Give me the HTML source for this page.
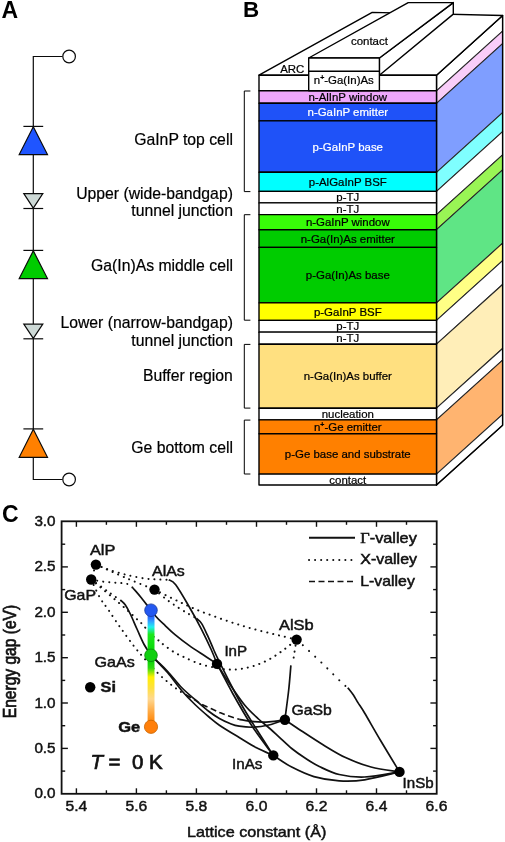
<!DOCTYPE html>
<html lang="en"><head><meta charset="utf-8"><title>Triple-junction solar cell figure</title>
<style>html,body{margin:0;padding:0;background:#fff}body{width:505px;height:842px;overflow:hidden}svg{display:block;font-family:"Liberation Sans",Arial,Helvetica,sans-serif}</style></head><body>
<svg width="505" height="842" viewBox="0 0 505 842">
<rect width="505" height="842" fill="#fff"/>
<g font-weight="bold" font-size="23" fill="#000"><text x="1.4" y="17.6">A</text><text x="243" y="17.3" font-size="22.4">B</text><text x="1.9" y="522">C</text></g>
<g stroke="#0a0a0a" stroke-width="1.2" fill="none">
<polyline points="62.6,56.5 33.3,56.5 33.3,479.5 62.6,479.5"/>
<circle cx="69.1" cy="56.5" r="6.3" fill="#fff"/>
<circle cx="69.1" cy="479.5" r="6.3" fill="#fff"/>
<polygon points="33.3,126.8 47.5,154.6 19.2,154.6" fill="#1f55ff"/>
<line x1="23.4" y1="126.4" x2="43.2" y2="126.4"/>
<polygon points="33.3,250.8 47.5,278.6 19.2,278.6" fill="#00cc00"/>
<line x1="23.4" y1="250.4" x2="43.2" y2="250.4"/>
<polygon points="33.3,429.3 47.5,457.3 19.2,457.3" fill="#ff8000"/>
<line x1="23.4" y1="428.9" x2="43.2" y2="428.9"/>
<polygon points="23.8,193.7 42.8,193.7 33.3,208.1" fill="#cdd9d6"/>
<line x1="23.4" y1="208.5" x2="43.2" y2="208.5"/>
<polygon points="23.8,324.1 42.8,324.1 33.3,338.4" fill="#cdd9d6"/>
<line x1="23.4" y1="338.8" x2="43.2" y2="338.8"/>
</g>
<g font-size="15.75" text-anchor="end" fill="#000" stroke="#000" stroke-width="0.2">
<text x="232.9" y="145">GaInP top cell</text>
<text x="232.9" y="199">Upper (wide-bandgap)</text>
<text x="232.9" y="216">tunnel junction</text>
<text x="232.9" y="270.7">Ga(In)As middle cell</text>
<text x="232.9" y="328.4">Lower (narrow-bandgap)</text>
<text x="232.9" y="346.2">tunnel junction</text>
<text x="232.9" y="380.8">Buffer region</text>
<text x="232.9" y="452.8">Ge bottom cell</text>
</g>
<g stroke="#000" stroke-width="1.4" stroke-linejoin="round">
<polygon points="436.5,75.2 502.6,15.5 502.6,31.1 436.5,90.8" fill="#ffffff" stroke="#2a2a2a" stroke-width="1.1"/>
<polygon points="436.5,90.8 502.6,31.1 502.6,43.6 436.5,103.3" fill="#f9cdf9" stroke="#2a2a2a" stroke-width="1.1"/>
<polygon points="436.5,103.3 502.6,43.6 502.6,112.6 436.5,172.3" fill="#7f9eff" stroke="#2a2a2a" stroke-width="1.1"/>
<polygon points="436.5,172.3 502.6,112.6 502.6,131.7 436.5,191.4" fill="#7fffff" stroke="#2a2a2a" stroke-width="1.1"/>
<polygon points="436.5,191.4 502.6,131.7 502.6,154.9 436.5,214.6" fill="#ffffff" stroke="#2a2a2a" stroke-width="1.1"/>
<polygon points="436.5,214.6 502.6,154.9 502.6,169.9 436.5,229.7" fill="#99f555" stroke="#2a2a2a" stroke-width="1.1"/>
<polygon points="436.5,229.7 502.6,169.9 502.6,243.2 436.5,302.9" fill="#5fe585" stroke="#2a2a2a" stroke-width="1.1"/>
<polygon points="436.5,302.9 502.6,243.2 502.6,260.7 436.5,320.4" fill="#ffff85" stroke="#2a2a2a" stroke-width="1.1"/>
<polygon points="436.5,320.4 502.6,260.7 502.6,284.5 436.5,344.2" fill="#ffffff" stroke="#2a2a2a" stroke-width="1.1"/>
<polygon points="436.5,344.2 502.6,284.5 502.6,348.5 436.5,408.2" fill="#ffeeb8" stroke="#2a2a2a" stroke-width="1.1"/>
<polygon points="436.5,408.2 502.6,348.5 502.6,360.2 436.5,419.9" fill="#ffffff" stroke="#2a2a2a" stroke-width="1.1"/>
<polygon points="436.5,419.9 502.6,360.2 502.6,414.4 436.5,474.1" fill="#ffb470" stroke="#2a2a2a" stroke-width="1.1"/>
<polygon points="436.5,474.1 502.6,414.4 502.6,425.3 436.5,485" fill="#ffffff" stroke="#2a2a2a" stroke-width="1.1"/>
<polygon points="436.5,75.2 502.6,15.5 502.6,425.3 436.5,485" fill="none"/>
<polygon points="259,75.2 372.2,12.4 502.6,15.5 436.5,75.2" fill="#fff"/>
<rect x="259" y="75.2" width="177.5" height="15.6" fill="#ffffff"/>
<rect x="259" y="90.8" width="177.5" height="12.5" fill="#eea6fb"/>
<rect x="259" y="103.3" width="177.5" height="17.6" fill="#1f52f8"/>
<rect x="259" y="120.9" width="177.5" height="51.4" fill="#1f52f8"/>
<rect x="259" y="172.3" width="177.5" height="19.1" fill="#00ffff"/>
<rect x="259" y="191.4" width="177.5" height="11.5" fill="#ffffff"/>
<rect x="259" y="202.9" width="177.5" height="11.7" fill="#ffffff"/>
<rect x="259" y="214.6" width="177.5" height="15.1" fill="#38fc08"/>
<rect x="259" y="229.7" width="177.5" height="17.8" fill="#00cc00"/>
<rect x="259" y="247.4" width="177.5" height="55.4" fill="#00cc00"/>
<rect x="259" y="302.9" width="177.5" height="17.5" fill="#ffff00"/>
<rect x="259" y="320.4" width="177.5" height="11.8" fill="#ffffff"/>
<rect x="259" y="332.1" width="177.5" height="12.1" fill="#ffffff"/>
<rect x="259" y="344.2" width="177.5" height="64" fill="#ffe080"/>
<rect x="259" y="408.2" width="177.5" height="11.7" fill="#ffffff"/>
<rect x="259" y="419.9" width="177.5" height="13.9" fill="#ff8000"/>
<rect x="259" y="433.8" width="177.5" height="40.3" fill="#ff8000"/>
<rect x="259" y="474.1" width="177.5" height="10.9" fill="#ffffff"/>
<polygon points="379.4,58 453.3,2.6 453.3,14.1 379.4,75.2" fill="#fff"/>
<polygon points="308.7,58 408.2,2.6 453.3,2.6 379.4,58" fill="#fff"/>
<rect x="308.7" y="58" width="70.7" height="32.8" fill="#fff"/>
<line x1="308.7" y1="71.3" x2="379.4" y2="71.3"/>
</g>
<g fill="none" stroke="#000" stroke-width="1">
<polyline points="250.4,91 244.3,91 244.3,191.6 250.4,191.6"/>
<polyline points="250.4,214.7 244.3,214.7 244.3,320.2 250.4,320.2"/>
<polyline points="250.4,344.4 244.3,344.4 244.3,408.1 250.4,408.1"/>
<polyline points="250.4,420.1 244.3,420.1 244.3,474 250.4,474"/>
</g>
<g font-size="11.45" text-anchor="middle" fill="#000" stroke="#000" stroke-width="0.22">
<text x="347.8" y="101.2">n-AlInP window</text>
<text x="347.8" y="116.2" fill="#fff" stroke="#fff">n-GaInP emitter</text>
<text x="347.8" y="150.7" fill="#fff" stroke="#fff">p-GaInP base</text>
<text x="347.8" y="186">p-AlGaInP BSF</text>
<text x="347.8" y="201.2">p-TJ</text>
<text x="347.8" y="212.8">n-TJ</text>
<text x="347.8" y="226.2">n-GaInP window</text>
<text x="347.8" y="242.7">n-Ga(In)As emitter</text>
<text x="347.8" y="279.3">p-Ga(In)As base</text>
<text x="347.8" y="315.7">p-GaInP BSF</text>
<text x="347.8" y="330.3">p-TJ</text>
<text x="347.8" y="342.2">n-TJ</text>
<text x="347.8" y="380.3">n-Ga(In)As buffer</text>
<text x="347.8" y="418.1">nucleation</text>
<text x="347.8" y="431">n<tspan font-size="7" font-weight="bold" dy="-4.2">+</tspan><tspan dy="4.2">-Ge emitter</tspan></text>
<text x="347.8" y="458.1">p-Ge base and substrate</text>
<text x="347.8" y="483.7">contact</text>
<text x="369.4" y="45">contact</text>
<text x="292.3" y="72.6">ARC</text>
<text x="343.8" y="84.3">n<tspan font-size="7" font-weight="bold" dy="-4.2">+</tspan><tspan dy="4.2">-Ga(In)As</tspan></text>
</g>
<defs><linearGradient id="gb" x1="0" y1="610" x2="0" y2="727" gradientUnits="userSpaceOnUse">
<stop offset="0.0000" stop-color="#2a60ff"/>
<stop offset="0.0684" stop-color="#2a70ff"/>
<stop offset="0.1026" stop-color="#30a8ff"/>
<stop offset="0.1453" stop-color="#20f0f0"/>
<stop offset="0.2094" stop-color="#1ce81c"/>
<stop offset="0.3162" stop-color="#0cdc0c"/>
<stop offset="0.4444" stop-color="#10d408"/>
<stop offset="0.4957" stop-color="#30dc10"/>
<stop offset="0.5726" stop-color="#fff000"/>
<stop offset="0.6667" stop-color="#ffe040"/>
<stop offset="0.7607" stop-color="#ffd890"/>
<stop offset="0.8718" stop-color="#ffa840"/>
<stop offset="0.9487" stop-color="#ff8a10"/>
<stop offset="1.0000" stop-color="#ff8000"/>
</linearGradient><clipPath id="pc"><rect x="61.6" y="521.3" width="375.1" height="272.5"/></clipPath></defs>
<g clip-path="url(#pc)">
<path d="M95.9 564.6C98.1 565.5 104.1 568.1 109.3 569.8C114.5 571.5 121 573.5 127 575C132.9 576.5 139.8 577.8 145 578.5C150.2 579.2 154 579.3 158 579.5C162 579.7 167 579.8 168.8 579.8" fill="none" stroke="#111" stroke-width="2.0" stroke-dasharray="0.1 5.95" stroke-linecap="round"/>
<path d="M168.8 579.8C170 580.6 172.2 580.2 175.7 584.8C179.2 589.4 185.3 600.1 189.6 607.5C193.9 614.9 197.9 622.2 201.5 629.3C205.1 636.4 208.8 644.2 211.4 650C214 655.8 216.1 661.6 217 663.9" fill="none" stroke="#111" stroke-width="1.7"/>
<path d="M95.9 564.6C101.2 566.9 117.7 574.4 127.5 578.6C137.3 582.8 150 587.8 154.5 589.6" fill="none" stroke="#111" stroke-width="2.0" stroke-dasharray="0.1 5.95" stroke-linecap="round"/>
<path d="M95.9 564.6 L91.2 579.5" fill="none" stroke="#111" stroke-width="2.0" stroke-dasharray="0.1 5.95" stroke-linecap="round"/>
<path d="M91.2 579.5C93.3 579.9 99.5 581.2 103.8 581.7C108.1 582.2 113 582.4 117 582.8C121 583.2 124.8 583.1 127.5 584C130.2 584.9 132.1 587.3 133 588" fill="none" stroke="#111" stroke-width="2.0" stroke-dasharray="0.1 5.95" stroke-linecap="round"/>
<path d="M133 588C134.4 589.7 137.8 593.4 141.5 598C145.2 602.6 151.4 611.1 155.3 615.7C159.2 620.3 161.9 622.5 165.2 625.6C168.5 628.8 171 631.3 175 634.6C179 637.9 184 641.8 189 645.4C194 649 200.3 652.9 205 656C209.7 659.1 215 662.6 217 663.9" fill="none" stroke="#111" stroke-width="1.7"/>
<path d="M91.2 579.5C93.3 581 100.3 586 103.8 588.5C107.3 591 109.1 592.5 112 594.5C114.9 596.5 119.7 599.7 121.2 600.7" fill="none" stroke="#111" stroke-width="2.0" stroke-dasharray="0.1 5.95" stroke-linecap="round"/>
<path d="M121.2 600.7C121.9 601.4 123.7 602.6 125.2 604.8C126.7 607 128.3 609.9 130.3 614C132.3 618.1 134.9 624.4 137.2 629.5C139.5 634.6 141.8 640.2 144.1 644.5C146.4 648.8 150 653.4 151.2 655.2" fill="none" stroke="#111" stroke-width="1.7"/>
<path d="M91.2 579.5C92.6 582.5 96.9 592.4 99.8 597.5C102.7 602.6 105.1 605 108.5 610C111.9 615 116.3 621.8 120.4 627.6C124.5 633.4 129.2 640 133 645C136.8 650 139.3 652.8 143.5 657.5C147.7 662.2 153.5 668.8 158 673.3C162.5 677.8 166.7 681.1 170.5 684.2C174.3 687.3 179.2 690.7 181 692" fill="none" stroke="#111" stroke-width="2.0" stroke-dasharray="0.1 5.95" stroke-linecap="round"/>
<path d="M185.7 694.8C187.2 695.6 191.9 698.2 194.7 699.9C197.5 701.6 199.8 703.3 202.6 704.8C205.4 706.3 208.7 707.5 211.5 708.8C214.3 710.1 216.8 711.3 219.4 712.4C222 713.5 224 714.4 227.3 715.5C230.6 716.6 237.2 718.7 239.2 719.3" fill="none" stroke="#111" stroke-width="1.6" stroke-dasharray="6 3.5"/>
<path d="M239.2 719.3C241.7 719.7 249.1 721.3 254 721.7C258.9 722.1 263.7 722.2 268.8 721.9C273.9 721.6 282.2 720.1 284.9 719.7" fill="none" stroke="#111" stroke-width="1.7"/>
<path d="M91.2 579.5C94.7 582.4 106 591.9 112 597C118 602.1 122.8 606.2 127 610C131.2 613.8 134.8 617.2 137.5 619.7C140.2 622.2 140.8 622.5 143 625C145.2 627.5 148.5 632 151 634.5C153.5 637 155.8 638.2 158 640C160.2 641.8 161.4 643 164 645C166.6 647 170.5 650 173.8 652C177.1 654 179.3 655 183.7 657C188.1 659 194.4 662.2 200 664C205.6 665.8 212.2 667.1 217 668C221.8 668.9 224.9 669.5 229 669.6C233.1 669.7 237.2 669.5 241.6 668.8C246 668.1 250.8 667 255.4 665.4C260 663.8 264.7 661.8 269.3 659.3C273.9 656.8 278.6 653.5 283.2 650.2C287.8 646.9 294.4 641.4 296.6 639.6" fill="none" stroke="#111" stroke-width="2.0" stroke-dasharray="0.1 5.95" stroke-linecap="round"/>
<path d="M154.5 589.6C156.7 590.7 163.6 594.1 167.8 596.2C172 598.3 176.1 600.3 179.7 602C183.3 603.7 186.3 605.1 189.6 606.6C192.9 608.1 196.2 609.6 199.5 610.9C202.8 612.2 206.1 613.4 209.4 614.6C212.7 615.8 216 617 219.3 618.2C222.6 619.4 225.9 620.5 229.2 621.6C232.5 622.7 236 623.8 239.1 624.8C242.2 625.8 244.7 626.5 248 627.5C251.3 628.5 255.1 629.5 259 630.5C262.9 631.5 267.5 632.6 271.5 633.6C275.5 634.6 279 635.4 283.2 636.4C287.4 637.4 294.4 639.1 296.6 639.6" fill="none" stroke="#111" stroke-width="2.0" stroke-dasharray="0.1 5.95" stroke-linecap="round"/>
<path d="M154.5 589.6C156.6 591.3 163.1 596.8 167 599.8C170.9 602.8 174.5 605.2 178 607.5C181.5 609.8 184.9 611.7 188 613.5C191.1 615.3 195.1 617.6 196.5 618.4" fill="none" stroke="#111" stroke-width="2.0" stroke-dasharray="0.1 5.95" stroke-linecap="round"/>
<path d="M196.5 618.4C197.3 619.2 199.7 620.6 201.5 623.4C203.3 626.2 205.4 630.9 207.4 635.2C209.4 639.5 211.4 644.5 213.4 649C215.4 653.5 215.1 653.2 219.5 662C223.9 670.8 233.8 690.7 240 702C246.2 713.3 251.4 721.1 257 730C262.6 738.9 270.6 751.2 273.3 755.4" fill="none" stroke="#111" stroke-width="1.7"/>
<path d="M217 663.9C219.7 668.9 227.2 683.6 233 694C238.8 704.4 245.3 715.8 252 726C258.7 736.2 269.8 750.5 273.3 755.4" fill="none" stroke="#111" stroke-width="1.7"/>
<path d="M151.2 655.2C152.1 656.2 153.8 658.1 156.6 661C159.3 663.9 163.5 667.9 167.7 672.8C171.9 677.7 177 685.1 181.6 690.5C186.2 695.9 190.9 700.6 195.5 705C200.1 709.4 205 713.6 209 717C213 720.4 214.4 721.8 219.4 725.2C224.4 728.6 233.1 733.8 239.2 737.5C245.3 741.2 250.3 744.5 256 747.5C261.7 750.5 270.4 754.1 273.3 755.4" fill="none" stroke="#111" stroke-width="1.7"/>
<path d="M151.2 655.2C152.1 656.1 153.8 657.9 156.6 660.6C159.3 663.3 163.5 667 167.7 671.5C171.9 676 177 682.8 181.6 687.5C186.2 692.2 190.9 696 195.5 700C200.1 704 205 708.4 209 711.5C213 714.6 215.9 716.5 219.4 718.5C222.9 720.5 226.7 722.2 230 723.5C233.3 724.8 235.2 725.6 239.2 726.2C243.2 726.8 249.1 727.4 254 727.2C258.9 727 263.7 726.2 268.8 725C273.9 723.8 282.2 720.6 284.9 719.7" fill="none" stroke="#111" stroke-width="1.7"/>
<path d="M273.3 755.4C276.4 757.4 284.9 763.6 291.7 767.1C298.5 770.6 306 774.3 313.9 776.6C321.8 778.9 330.8 780.3 339.2 780.8C347.6 781.3 354.6 781.3 364.6 779.8C374.7 778.3 393.7 773.2 399.5 771.9" fill="none" stroke="#111" stroke-width="1.7"/>
<path d="M217 663.9C219.3 667.5 226.1 678.6 230.7 685.5C235.3 692.4 240 699.4 244.6 705C249.2 710.6 254.3 715.1 258.5 719C262.7 722.9 266.3 725.4 269.8 728.5C273.3 731.6 276.1 734.3 279.7 737.6C283.3 740.9 287.5 745.1 291.7 748.5C295.9 751.9 300.4 755 305 758C309.6 761 313.6 763.8 319.3 766.5C325 769.2 331.6 772.8 339.2 774.5C346.8 776.2 354.6 777.4 364.6 777C374.7 776.6 393.7 772.8 399.5 771.9" fill="none" stroke="#111" stroke-width="1.7"/>
<path d="M284.9 719.7C287.6 721.5 294.8 726.5 301.2 730.7C307.6 734.9 316 740.5 323.4 745C330.8 749.5 337.6 753.9 345.5 757.6C353.4 761.3 362 764.6 371 767C380 769.4 394.8 771.1 399.5 771.9" fill="none" stroke="#111" stroke-width="1.7"/>
<path d="M296.6 639.6C296.2 641.7 295.1 648.1 294.5 652C293.9 655.9 293.2 660.9 292.9 662.7" fill="none" stroke="#111" stroke-width="2.0" stroke-dasharray="0.1 5.95" stroke-linecap="round"/>
<path d="M290.9 665.4C290.5 669.5 289.7 681 288.7 690C287.7 699 285.5 714.8 284.9 719.7" fill="none" stroke="#111" stroke-width="1.7"/>
<path d="M296.6 639.6C297.6 640.5 299.6 642.2 302.7 645C305.8 647.8 310.9 652.7 315 656.5C319.1 660.3 323.2 664.2 327 668C330.8 671.8 334.9 676 338 679C341.1 682 344.2 684.8 345.5 686" fill="none" stroke="#111" stroke-width="2.0" stroke-dasharray="0.1 8.3" stroke-linecap="round"/>
<path d="M347.8 687.8C348.7 689 351.7 692.5 353.4 695C355.1 697.5 356.2 699.9 358.1 702.9C360 705.9 360.9 706.8 364.6 713C368.3 719.2 374.6 730.4 380.4 740.2C386.2 750 396.3 766.6 399.5 771.9" fill="none" stroke="#111" stroke-width="1.7"/>
</g>
<circle cx="95.9" cy="564.6" r="5.2" fill="#000"/>
<circle cx="91.2" cy="579.5" r="5.2" fill="#000"/>
<circle cx="154.5" cy="589.6" r="5.2" fill="#000"/>
<circle cx="151.2" cy="655.2" r="5.2" fill="#000"/>
<circle cx="217" cy="663.9" r="5.2" fill="#000"/>
<circle cx="296.6" cy="639.6" r="5.2" fill="#000"/>
<circle cx="284.9" cy="719.7" r="5.2" fill="#000"/>
<circle cx="273.3" cy="755.4" r="5.2" fill="#000"/>
<circle cx="399.5" cy="771.9" r="5.2" fill="#000"/>
<circle cx="90.2" cy="687.2" r="5.2" fill="#000"/>
<rect x="147.6" y="610" width="6.9" height="117" fill="url(#gb)"/>
<circle cx="151" cy="610.2" r="6.3" fill="#2458f0" stroke="#1c3c9c" stroke-width="0.8"/>
<circle cx="151" cy="655.3" r="6.3" fill="#10cf10" stroke="#0a8a0a" stroke-width="0.8"/>
<circle cx="151" cy="726.8" r="6.6" fill="#ff7f0a" stroke="#c86400" stroke-width="0.8"/>
<rect x="61.6" y="521.3" width="375.1" height="272.5" fill="none" stroke="#111" stroke-width="1.8"/>
<g stroke="#111" stroke-width="1.4">
<line x1="76.4" y1="793.8" x2="76.4" y2="788.3"/>
<line x1="76.4" y1="521.3" x2="76.4" y2="526.8"/>
<line x1="106.4" y1="793.8" x2="106.4" y2="790.3"/>
<line x1="106.4" y1="521.3" x2="106.4" y2="524.8"/>
<line x1="136.4" y1="793.8" x2="136.4" y2="788.3"/>
<line x1="136.4" y1="521.3" x2="136.4" y2="526.8"/>
<line x1="166.4" y1="793.8" x2="166.4" y2="790.3"/>
<line x1="166.4" y1="521.3" x2="166.4" y2="524.8"/>
<line x1="196.4" y1="793.8" x2="196.4" y2="788.3"/>
<line x1="196.4" y1="521.3" x2="196.4" y2="526.8"/>
<line x1="226.5" y1="793.8" x2="226.5" y2="790.3"/>
<line x1="226.5" y1="521.3" x2="226.5" y2="524.8"/>
<line x1="256.5" y1="793.8" x2="256.5" y2="788.3"/>
<line x1="256.5" y1="521.3" x2="256.5" y2="526.8"/>
<line x1="286.5" y1="793.8" x2="286.5" y2="790.3"/>
<line x1="286.5" y1="521.3" x2="286.5" y2="524.8"/>
<line x1="316.5" y1="793.8" x2="316.5" y2="788.3"/>
<line x1="316.5" y1="521.3" x2="316.5" y2="526.8"/>
<line x1="346.5" y1="793.8" x2="346.5" y2="790.3"/>
<line x1="346.5" y1="521.3" x2="346.5" y2="524.8"/>
<line x1="376.5" y1="793.8" x2="376.5" y2="788.3"/>
<line x1="376.5" y1="521.3" x2="376.5" y2="526.8"/>
<line x1="406.5" y1="793.8" x2="406.5" y2="790.3"/>
<line x1="406.5" y1="521.3" x2="406.5" y2="524.8"/>
<line x1="61.6" y1="771.1" x2="65.2" y2="771.1"/>
<line x1="436.7" y1="771.1" x2="433.1" y2="771.1"/>
<line x1="61.6" y1="748.4" x2="67.9" y2="748.4"/>
<line x1="436.7" y1="748.4" x2="430.4" y2="748.4"/>
<line x1="61.6" y1="725.7" x2="65.2" y2="725.7"/>
<line x1="436.7" y1="725.7" x2="433.1" y2="725.7"/>
<line x1="61.6" y1="703" x2="67.9" y2="703"/>
<line x1="436.7" y1="703" x2="430.4" y2="703"/>
<line x1="61.6" y1="680.4" x2="65.2" y2="680.4"/>
<line x1="436.7" y1="680.4" x2="433.1" y2="680.4"/>
<line x1="61.6" y1="657.7" x2="67.9" y2="657.7"/>
<line x1="436.7" y1="657.7" x2="430.4" y2="657.7"/>
<line x1="61.6" y1="635" x2="65.2" y2="635"/>
<line x1="436.7" y1="635" x2="433.1" y2="635"/>
<line x1="61.6" y1="612.3" x2="67.9" y2="612.3"/>
<line x1="436.7" y1="612.3" x2="430.4" y2="612.3"/>
<line x1="61.6" y1="589.6" x2="65.2" y2="589.6"/>
<line x1="436.7" y1="589.6" x2="433.1" y2="589.6"/>
<line x1="61.6" y1="566.9" x2="67.9" y2="566.9"/>
<line x1="436.7" y1="566.9" x2="430.4" y2="566.9"/>
<line x1="61.6" y1="544.2" x2="65.2" y2="544.2"/>
<line x1="436.7" y1="544.2" x2="433.1" y2="544.2"/>
</g>
<path d="M309 537.8H355" fill="none" stroke="#111" stroke-width="1.9"/>
<path d="M309 560H355" fill="none" stroke="#111" stroke-width="2.0" stroke-dasharray="0.1 5.95" stroke-linecap="round"/>
<path d="M309 581.5H355" fill="none" stroke="#111" stroke-width="1.6" stroke-dasharray="6 3.5"/>
<g fill="#111" stroke="#111" stroke-width="0.45">
<text x="65.5" y="811.2" font-size="14.2" text-anchor="start" textLength="21.8" lengthAdjust="spacingAndGlyphs">5.4</text>
<text x="125.5" y="811.2" font-size="14.2" text-anchor="start" textLength="21.8" lengthAdjust="spacingAndGlyphs">5.6</text>
<text x="185.5" y="811.2" font-size="14.2" text-anchor="start" textLength="21.8" lengthAdjust="spacingAndGlyphs">5.8</text>
<text x="245.6" y="811.2" font-size="14.2" text-anchor="start" textLength="21.8" lengthAdjust="spacingAndGlyphs">6.0</text>
<text x="305.6" y="811.2" font-size="14.2" text-anchor="start" textLength="21.8" lengthAdjust="spacingAndGlyphs">6.2</text>
<text x="365.6" y="811.2" font-size="14.2" text-anchor="start" textLength="21.8" lengthAdjust="spacingAndGlyphs">6.4</text>
<text x="425.6" y="811.2" font-size="14.2" text-anchor="start" textLength="21.8" lengthAdjust="spacingAndGlyphs">6.6</text>
<text x="34.4" y="798.3" font-size="14.2" text-anchor="start" textLength="21.2" lengthAdjust="spacingAndGlyphs">0.0</text>
<text x="34.4" y="752.9" font-size="14.2" text-anchor="start" textLength="21.2" lengthAdjust="spacingAndGlyphs">0.5</text>
<text x="34.4" y="707.5" font-size="14.2" text-anchor="start" textLength="21.2" lengthAdjust="spacingAndGlyphs">1.0</text>
<text x="34.4" y="662.2" font-size="14.2" text-anchor="start" textLength="21.2" lengthAdjust="spacingAndGlyphs">1.5</text>
<text x="34.4" y="616.8" font-size="14.2" text-anchor="start" textLength="21.2" lengthAdjust="spacingAndGlyphs">2.0</text>
<text x="34.4" y="571.4" font-size="14.2" text-anchor="start" textLength="21.2" lengthAdjust="spacingAndGlyphs">2.5</text>
<text x="34.4" y="526" font-size="14.2" text-anchor="start" textLength="21.2" lengthAdjust="spacingAndGlyphs">3.0</text>
<text x="187" y="836.8" font-size="14.1" text-anchor="start" textLength="139.4" lengthAdjust="spacingAndGlyphs">Lattice constant (Å)</text>
<text transform="translate(15.6 718.2) rotate(-90) scale(0.89 1)" font-size="17.5" stroke-width="0.7">Energy gap (eV)</text>
<text x="360.3" y="543.3" font-size="14.4" text-anchor="start" textLength="56.5" lengthAdjust="spacingAndGlyphs" stroke-width="0.5"><tspan font-family="Liberation Serif,serif">Γ</tspan>-valley</text>
<text x="360.3" y="564.2" font-size="14.4" text-anchor="start" textLength="56.7" lengthAdjust="spacingAndGlyphs" stroke-width="0.5">X-valley</text>
<text x="360.3" y="586" font-size="14.4" text-anchor="start" textLength="54.5" lengthAdjust="spacingAndGlyphs" stroke-width="0.5">L-valley</text>
<text x="89.9" y="554.8" font-size="14.6" text-anchor="start" textLength="25.5" lengthAdjust="spacingAndGlyphs">AlP</text>
<text x="152" y="576.1" font-size="14.6" text-anchor="start" textLength="32.8" lengthAdjust="spacingAndGlyphs">AlAs</text>
<text x="64.2" y="599.7" font-size="14.6" text-anchor="start" textLength="31.8" lengthAdjust="spacingAndGlyphs">GaP</text>
<text x="94.4" y="667.4" font-size="14.6" text-anchor="start" textLength="40.3" lengthAdjust="spacingAndGlyphs">GaAs</text>
<text x="224.4" y="656.1" font-size="14.6" text-anchor="start" textLength="22.7" lengthAdjust="spacingAndGlyphs">InP</text>
<text x="279" y="629.8" font-size="14.6" text-anchor="start" textLength="34.7" lengthAdjust="spacingAndGlyphs">AlSb</text>
<text x="291.5" y="715.4" font-size="14.6" text-anchor="start" textLength="40.4" lengthAdjust="spacingAndGlyphs">GaSb</text>
<text x="232" y="768.6" font-size="14.6" text-anchor="start" textLength="30.4" lengthAdjust="spacingAndGlyphs">InAs</text>
<text x="402.6" y="788.1" font-size="14.6" text-anchor="start" textLength="31.1" lengthAdjust="spacingAndGlyphs">InSb</text>
<text x="100.6" y="692.4" font-size="15.2" text-anchor="start" textLength="15.4" lengthAdjust="spacingAndGlyphs" font-weight="bold">Si</text>
<text x="118.2" y="732.2" font-size="15.4" text-anchor="start" textLength="22" lengthAdjust="spacingAndGlyphs" font-weight="bold">Ge</text>
<text x="90.4" y="768.8" font-size="19.3" text-anchor="start" textLength="72.3" lengthAdjust="spacingAndGlyphs" xml:space="preserve" stroke-width="0.65"><tspan font-style="italic">T</tspan> =  0 K</text>
</g>
</svg></body></html>
